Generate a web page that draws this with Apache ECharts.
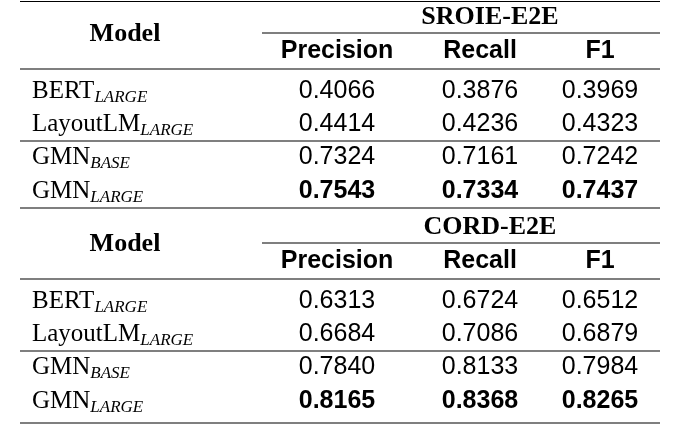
<!DOCTYPE html>
<html><head><meta charset="utf-8">
<script src="https://cdn.jsdelivr.net/npm/echarts@6/dist/echarts.min.js"></script>
<style>html,body{margin:0;padding:0;background:#fff}#main{width:675px;height:426px}</style>
</head><body><div id="main"></div>
<script>
// table contents
let models = [['BERT', 'LARGE'], ['LayoutLM', 'LARGE'], ['GMN', 'BASE'], ['GMN', 'LARGE']];
let metrics = ['Precision', 'Recall', 'F1'];
let datasets = ['SROIE-E2E', 'CORD-E2E'];
let sroie = [
    ['0.4066', '0.3876', '0.3969'],
    ['0.4414', '0.4236', '0.4323'],
    ['0.7324', '0.7161', '0.7242'],
    ['0.7543', '0.7334', '0.7437']
];
let cord = [
    ['0.6313', '0.6724', '0.6512'],
    ['0.6684', '0.7086', '0.6879'],
    ['0.7840', '0.8133', '0.7984'],
    ['0.8165', '0.8368', '0.8265']
];
let bestRow = 3;

let myChart = echarts.init(document.getElementById('main'));
let L = 20, R = 660, subL = 262;
let colX = [337, 480, 600];
let serif = 'Liberation Serif', sans = 'Liberation Sans';
let els = [];

function line(x1, x2, y, w) {
    els.push({type: 'line', shape: {x1: x1, y1: y, x2: x2, y2: y}, style: {stroke: '#000', lineWidth: w || 1.2}});
}
function text(t, x, y, font, size, bold, align, rich) {
    els.push({type: 'text', x: x, y: y, style: {
        text: t, font: (bold ? 'bold ' : '') + size + 'px "' + font + '"',
        fill: '#000', align: align || 'center', verticalAlign: 'middle', rich: rich
    }});
}

function block(top, name, vals) {
    text('Model', 125, top + 33, serif, 26, true);
    text(name, 490, top + 16, serif, 26, true);
    line(subL, R, top + 32);
    metrics.forEach(function (m, i) { text(m, colX[i], top + 50, sans, 25, true); });
    line(L, R, top + 68);
    let rowY = [top + 90, top + 123, top + 156, top + 190];
    models.forEach(function (m, r) {
        text('{a|' + m[0] + '}{s|' + m[1] + '}', 32, rowY[r], serif, 25, false, 'left', {
            a: {font: '25px "' + serif + '"', fill: '#000'},
            s: {font: 'italic 17px "' + serif + '"', fill: '#000', padding: [14, 0, 0, 0]}
        });
        vals[r].forEach(function (v, c) { text(v, colX[c], rowY[r], sans, 25, r === bestRow); });
    });
    line(L, R, top + 140);
}

line(L, R, 1.5);
block(1, datasets[0], sroie);
line(L, R, 208);
block(211, datasets[1], cord);
line(L, R, 423);

myChart.setOption({graphic: {elements: els}});
</script></body></html>
